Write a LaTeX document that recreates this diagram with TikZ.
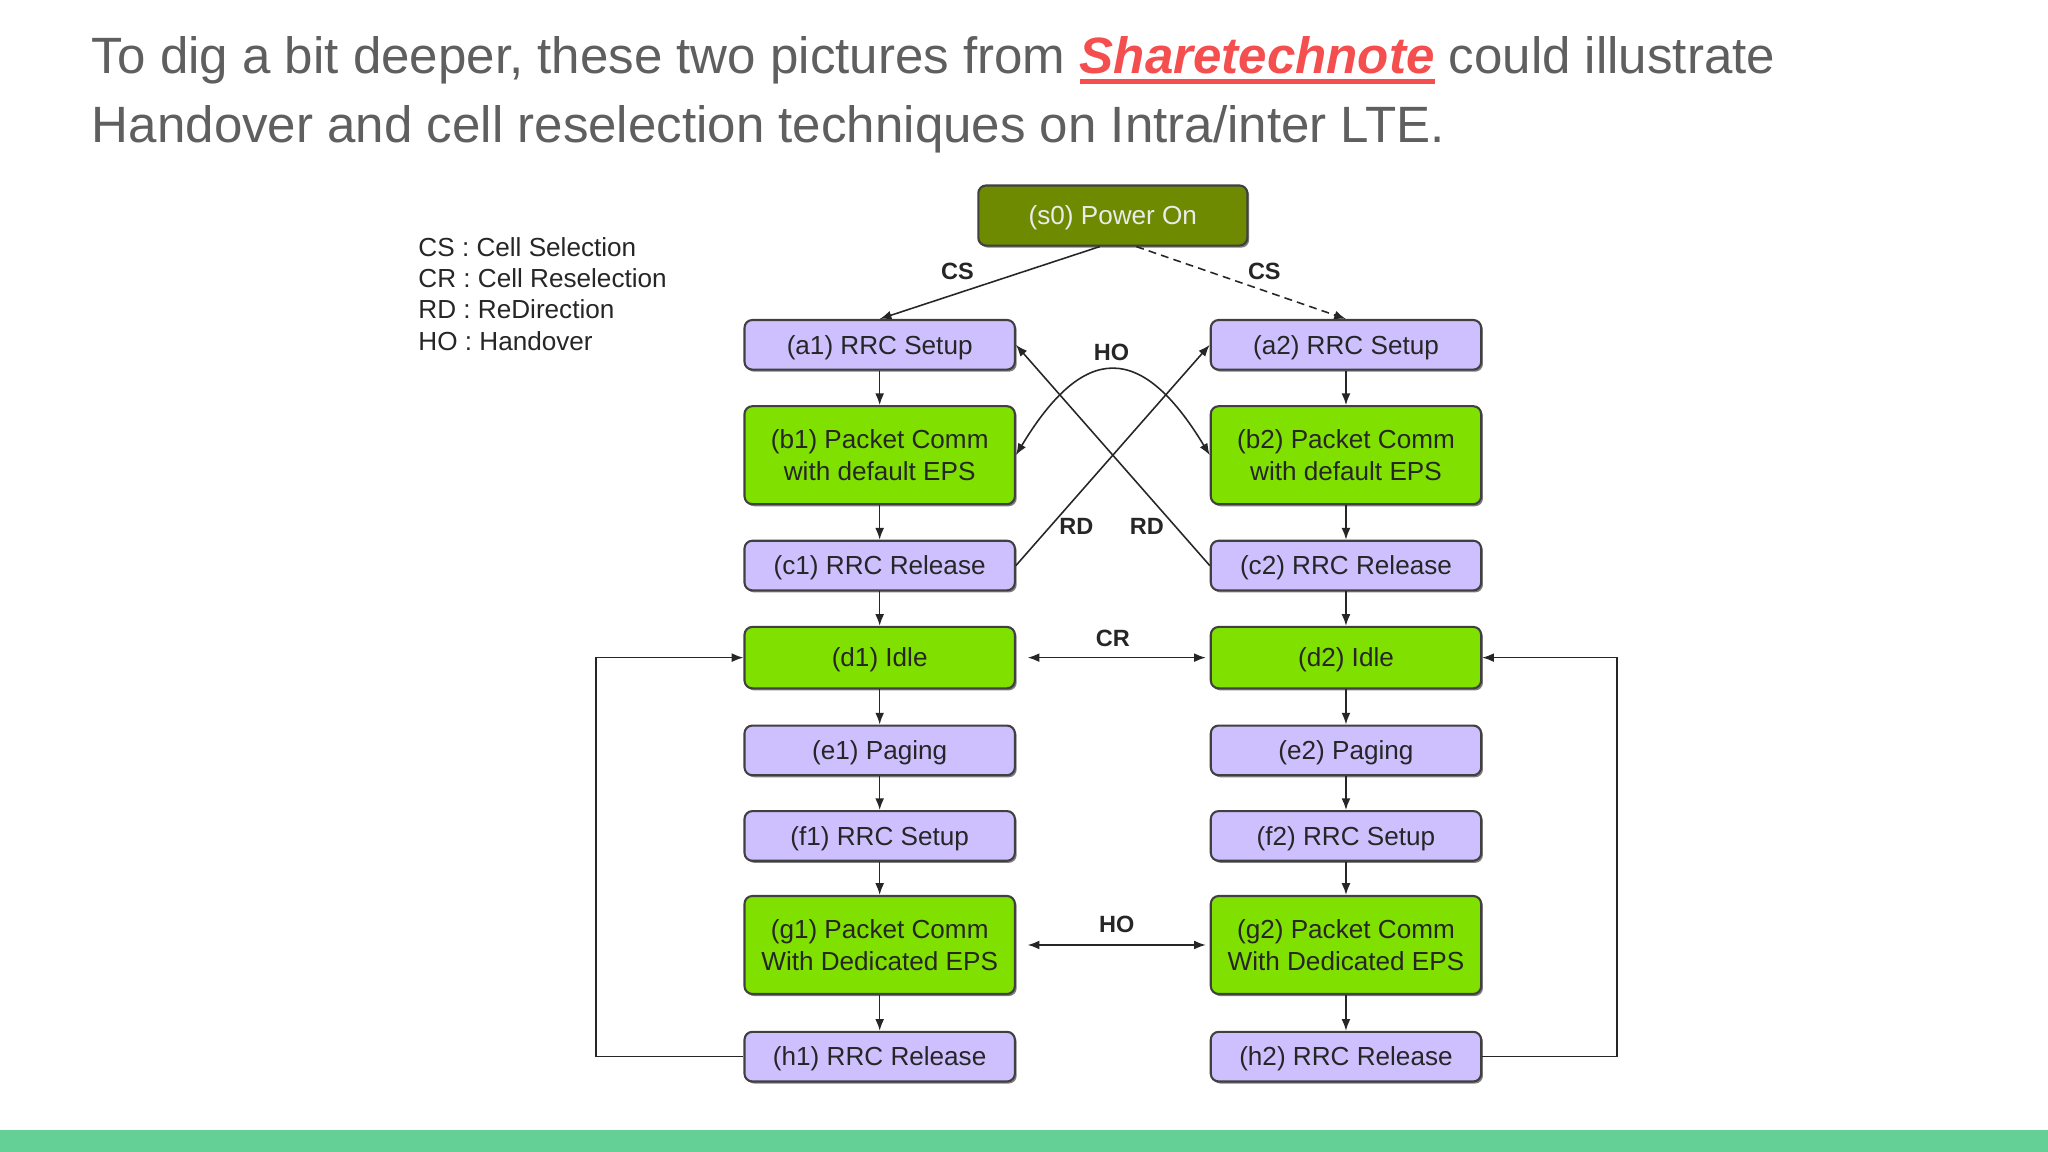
\documentclass[tikz,border=0pt]{standalone}
\usepackage{fontspec}
\setmainfont{Liberation Sans}
\usetikzlibrary{arrows.meta,shadows}
\definecolor{titlegray}{RGB}{95,95,95}
\definecolor{shred}{RGB}{245,78,78}
\definecolor{lavbox}{RGB}{206,192,255}
\definecolor{grnbox}{RGB}{128,224,0}
\definecolor{olivebox}{RGB}{110,138,0}
\definecolor{barcol}{RGB}{100,208,150}
\newsavebox\myulbox
\newcommand{\redul}[1]{\sbox\myulbox{#1}\rlap{{\color{shred}\rule[-4.1pt]{\wd\myulbox}{1.8pt}}}\usebox\myulbox}
\begin{document}
\begin{tikzpicture}[x=0.5pt,y=-0.5pt,
  box/.style={draw=black!75, line width=0.8pt, rounded corners=3pt,
    minimum width=103.5pt, inner sep=0pt, align=center,
    font=\fontsize{10}{12.3}\selectfont, text=black!85,
    drop shadow={shadow xshift=0.7pt, shadow yshift=-0.8pt, opacity=0.5, fill=black}},
  oneline/.style={text height=7.3pt, text depth=0.2pt},
  lav/.style={box, oneline, fill=lavbox, minimum height=19pt},
  grntall/.style={box, fill=grnbox, minimum height=37.5pt},
  grnidle/.style={box, oneline, fill=grnbox, minimum height=23.5pt},
  arr/.style={-{Latex[length=4.5pt,width=3.4pt]}, line width=0.6pt, draw=black!85},
  darr/.style={{Latex[length=4.5pt,width=3.4pt]}-{Latex[length=4.5pt,width=3.4pt]}, line width=0.6pt, draw=black!85},
  lbl/.style={font=\fontsize{9}{10}\selectfont\bfseries, text=black!85, inner sep=0pt},
  leg/.style={font=\fontsize{10}{12}\selectfont, text=black!85, inner sep=0pt, anchor=west},
  ttl/.style={font=\fontsize{19.55}{23}\selectfont, text=titlegray, inner sep=0pt, anchor=base west}]
\useasboundingbox (0,0) rectangle (1568,882);
\fill[white] (0,0) rectangle (1568,882);
\fill[barcol] (0,865) rectangle (1568,882);

% title
\node[ttl] (t1) at (70,56) {To dig a bit deeper, these two pictures from \redul{{\color{shred}\bfseries\itshape Sharetechnote}}\ could illustrate};
\node[ttl] (t2) at (70,109) {Handover and cell reselection techniques on Intra/inter LTE.};

% legend
\node[leg] (leg1) at (320,189) {CS : Cell Selection};
\node[leg] (leg2) at (320,213) {CR : Cell Reselection};
\node[leg] (leg3) at (320,237) {RD : ReDirection};
\node[leg] (leg4) at (320,261) {HO : Handover};

% nodes
\node[box, oneline, fill=olivebox, minimum height=23pt, minimum width=103pt, text=white!92!black] (s0) at (852,165) {(s0) Power On};

\node[lav] (a1) at (673.5,264) {(a1) RRC Setup};
\node[grntall] (b1) at (673.5,348.5) {(b1) Packet Comm\\with default EPS};
\node[lav] (c1) at (673.5,433) {(c1) RRC Release};
\node[grnidle] (d1) at (673.5,503.5) {(d1) Idle};
\node[lav] (e1) at (673.5,574.5) {(e1) Paging};
\node[lav] (f1) at (673.5,640) {(f1) RRC Setup};
\node[grntall] (g1) at (673.5,723.5) {(g1) Packet Comm\\With Dedicated EPS};
\node[lav] (h1) at (673.5,809) {(h1) RRC Release};

\node[lav] (a2) at (1030.5,264) {(a2) RRC Setup};
\node[grntall] (b2) at (1030.5,348.5) {(b2) Packet Comm\\with default EPS};
\node[lav] (c2) at (1030.5,433) {(c2) RRC Release};
\node[grnidle] (d2) at (1030.5,503.5) {(d2) Idle};
\node[lav] (e2) at (1030.5,574.5) {(e2) Paging};
\node[lav] (f2) at (1030.5,640) {(f2) RRC Setup};
\node[grntall] (g2) at (1030.5,723.5) {(g2) Packet Comm\\With Dedicated EPS};
\node[lav] (h2) at (1030.5,809) {(h2) RRC Release};

% vertical flows
\foreach \c in {1,2}{
  \draw[arr] (a\c) -- (b\c);
  \draw[arr] (b\c) -- (c\c);
  \draw[arr] (c\c) -- (d\c);
  \draw[arr] (d\c) -- (e\c);
  \draw[arr] (e\c) -- (f\c);
  \draw[arr] (f\c) -- (g\c);
  \draw[arr] (g\c) -- (h\c);
}

% cell selection
\draw[arr] ([xshift=-5pt]s0.south) -- (a1.north);
\draw[arr, dash pattern=on 3pt off 2pt] ([xshift=9pt]s0.south) -- (a2.north);
\node[lbl] (lcs1) at (733,208) {CS};
\node[lbl] (lcs2) at (968,208) {CS};

% redirection
\draw[arr] (c1.east) -- (a2.west);
\draw[arr] (c2.west) -- (a1.east);
\node[lbl] (lrd1) at (824,403) {RD};
\node[lbl] (lrd2) at (878,403) {RD};

% handover (upper)
\draw[darr] (b1.east) .. controls (830,262) and (874,262) .. (b2.west);
\node[lbl] (lho1) at (851,270) {HO};

% cell reselection
\draw[darr] ([xshift=4.5pt]d1.east) -- ([xshift=-1.5pt]d2.west);
\node[lbl] (lcr) at (852,489) {CR};

% handover (lower)
\draw[darr] ([xshift=4.5pt]g1.east) -- ([xshift=-1.5pt]g2.west);
\node[lbl] (lho2) at (855,708) {HO};

% loops
\draw[arr] (h1.west) -- ++(-113,0) |- (d1.west);
\draw[arr] (h2.east) -- ++(103,0) |- (d2.east);
\end{tikzpicture}
\end{document}
